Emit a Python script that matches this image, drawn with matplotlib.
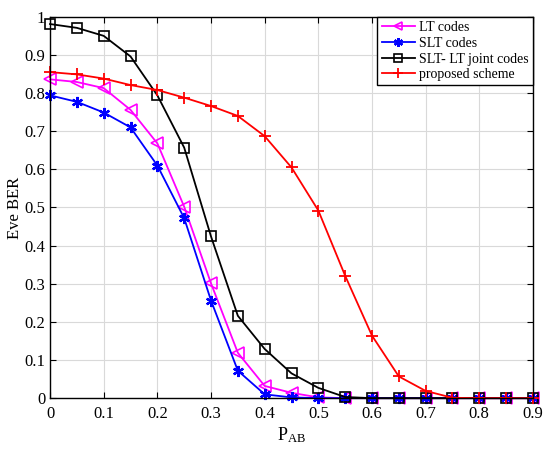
import matplotlib.pyplot as plt

plt.rcParams['font.family'] = ['Liberation Serif', 'DejaVu Serif']
plt.rcParams['mathtext.fontset'] = 'custom'
plt.rcParams['mathtext.rm'] = 'Liberation Serif'
plt.rcParams['mathtext.it'] = 'Liberation Serif'

p_ab = [0, 0.05, 0.1, 0.15, 0.2, 0.25, 0.3, 0.35, 0.4, 0.45,
        0.5, 0.55, 0.6, 0.65, 0.7, 0.75, 0.8, 0.85, 0.9]

lt_codes = [0.836, 0.829, 0.813, 0.756, 0.668, 0.502, 0.301, 0.119, 0.032, 0.014,
            0.002, 0, 0, 0, 0, 0, 0, 0, 0]
slt_codes = [0.794, 0.777, 0.749, 0.710, 0.610, 0.472, 0.256, 0.072, 0.010, 0.002,
             0, 0, 0, 0, 0, 0, 0, 0, 0]
joint_codes = [0.981, 0.971, 0.950, 0.896, 0.794, 0.657, 0.424, 0.216, 0.129, 0.065,
               0.027, 0.003, 0, 0, 0, 0, 0, 0, 0]
proposed = [0.855, 0.849, 0.838, 0.821, 0.808, 0.788, 0.766, 0.740, 0.687, 0.605,
            0.492, 0.321, 0.164, 0.057, 0.019, 0.001, 0, 0, 0]

fig = plt.figure(figsize=(5.5, 4.54), dpi=100)
ax = fig.add_axes([0.091, 0.123, 0.878, 0.84])

ax.plot(p_ab, lt_codes, color='magenta', marker='<', markersize=8,
        markerfacecolor='none', markeredgewidth=1.2, linewidth=1.3,
        label='LT codes', clip_on=False)
ax.plot(p_ab, slt_codes, color='blue', marker=(6, 2, 0), markersize=8,
        markeredgewidth=1.6, linewidth=1.3, label='SLT codes', clip_on=False)
ax.plot(p_ab, joint_codes, color='black', marker='s', markersize=7,
        markerfacecolor='none', markeredgewidth=1.2, linewidth=1.3,
        label='SLT- LT joint codes', clip_on=False)
ax.plot(p_ab, proposed, color='red', marker='+', markersize=9,
        markeredgewidth=1.3, linewidth=1.3, label='proposed scheme', clip_on=False)

ax.set_xlim(0, 0.9)
ax.set_ylim(0, 1)
ax.set_xticks([0, 0.1, 0.2, 0.3, 0.4, 0.5, 0.6, 0.7, 0.8, 0.9])
ax.set_xticklabels(['0', '0.1', '0.2', '0.3', '0.4', '0.5', '0.6', '0.7', '0.8', '0.9'])
ax.set_yticks([0, 0.1, 0.2, 0.3, 0.4, 0.5, 0.6, 0.7, 0.8, 0.9, 1])
ax.set_yticklabels(['0', '0.1', '0.2', '0.3', '0.4', '0.5', '0.6', '0.7', '0.8', '0.9', '1'])
ax.tick_params(direction='in', top=True, right=True, labelsize=12, length=4)
ax.tick_params(axis='x', pad=6)
ax.grid(True, color='#d9d9d9', linewidth=0.8)
ax.set_axisbelow(True)
for s in ax.spines.values():
    s.set_linewidth(1.0)

ax.set_xlabel(r'P$_{\mathrm{AB}}$', fontsize=13, labelpad=2)
ax.set_ylabel('Eve BER', fontsize=12, labelpad=1)

leg = ax.legend(loc='upper right', fontsize=10, fancybox=False, framealpha=1,
                edgecolor='black', borderaxespad=0, handlelength=2.4,
                markerscale=0.8, labelspacing=0.2, borderpad=0.3, handletextpad=0.3)
leg.get_frame().set_linewidth(1.0)

fig.savefig('out.png', dpi=100)
